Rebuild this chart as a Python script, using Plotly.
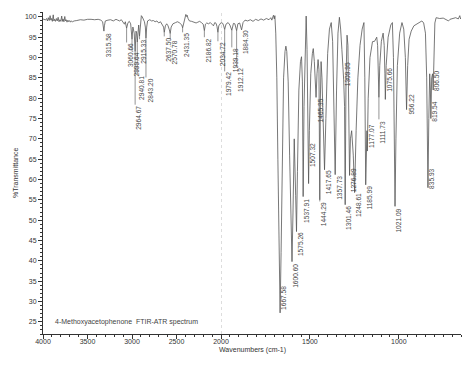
import plotly.graph_objects as go

# ---------------- data ----------------
wavenumber = [
    4000, 3990, 3975, 3960, 3950, 3940, 3930, 3920, 3912, 3905, 3895, 3885, 3878, 3870, 3860,
    3850, 3840, 3830, 3820, 3810, 3800, 3790, 3782, 3775, 3765, 3755, 3748, 3740, 3730, 3720,
    3710, 3700, 3690, 3680, 3670, 3650, 3620, 3580, 3540, 3500, 3460, 3420, 3380, 3350, 3330,
    3320, 3315.58, 3310, 3300, 3270, 3240, 3210, 3180, 3160, 3140, 3120, 3100, 3085, 3075,
    3060.66, 3045, 3030, 3015, 2999.64, 2990, 2982, 2975, 2964.67, 2955, 2948, 2940.81, 2932,
    2925, 2915.33, 2905, 2895, 2885, 2870, 2860, 2850, 2843.20, 2835, 2825, 2800, 2780, 2760,
    2740, 2720, 2700, 2680, 2660, 2645, 2637.50, 2625, 2610, 2595, 2580, 2570.78, 2560, 2540,
    2510, 2490, 2470, 2450, 2440, 2431.35, 2420, 2405, 2395, 2388, 2380, 2370, 2355, 2330,
    2300, 2280, 2260, 2240, 2220, 2200, 2186.82, 2175, 2160, 2140, 2120, 2100, 2085, 2070,
    2055, 2045, 2034.72, 2025, 2010, 2000,
    1990, 1985, 1979.42, 1972, 1960, 1950, 1939.18, 1930, 1922, 1912.12, 1905, 1895, 1884.30,
    1876, 1865, 1850, 1835, 1820, 1805, 1790, 1775, 1760, 1745, 1730, 1720, 1714, 1705, 1700,
    1697, 1692, 1686, 1680, 1672, 1667.58, 1662, 1655, 1648, 1640, 1635, 1630, 1622, 1614,
    1606, 1600.60, 1595, 1588, 1580, 1575.26, 1570, 1562, 1553, 1547, 1542, 1537.91, 1533,
    1527, 1521, 1516, 1511, 1507.32, 1503, 1495, 1486, 1481, 1475, 1469, 1465.35, 1460, 1454,
    1449, 1444.29, 1441, 1437, 1432, 1425, 1417.65, 1410, 1400, 1390, 1380, 1372, 1365,
    1357.73, 1350, 1342, 1334, 1327, 1320, 1314, 1309.95, 1305, 1301.46, 1297, 1291, 1286,
    1281, 1276.89, 1272, 1265, 1256, 1248.61, 1240, 1230, 1218, 1206, 1196, 1191, 1185.99,
    1182, 1179, 1177.07, 1172, 1162, 1148, 1136, 1124, 1119, 1115, 1111.73, 1107, 1098, 1088,
    1082, 1078, 1075.66, 1071, 1060, 1045, 1036, 1030, 1025, 1021.09, 1016, 1008, 995, 982,
    972, 963, 956.22, 950, 942, 930, 915, 900, 885, 870, 860, 850, 843, 838, 835.93, 831, 826,
    822, 819.54, 815, 810, 806.50, 802, 797, 790, 770, 750, 735, 720, 712, 700, 680, 665,
    657, 652, 650,
]
transmittance = [
    99.3, 99.5, 99.2, 99.6, 99.0, 99.8, 99.1, 100.3, 99.2, 99.6, 98.9, 100.5, 99.0, 99.4, 98.9,
    99.6, 99.0, 99.9, 98.8, 99.3, 98.9, 100.2, 98.9, 99.5, 98.8, 100.1, 99.0, 99.3, 98.7, 99.2,
    98.8, 99.1, 98.7, 99.0, 98.8, 99.0, 99.1, 99.3, 99.2, 99.4, 99.4, 99.3, 99.4, 99.2, 98.8,
    97.4, 96.5, 97.8, 99.0, 99.2, 99.3, 99.0, 99.4, 99.2, 99.0, 99.3, 98.6, 98.2, 98.8,
    97.2, 98.6, 98.9, 98.3, 94.5, 97.5, 96.8, 96.0, 91.5, 96.5, 96.0, 93.8, 97.5,
    98.0, 95.3, 98.5, 100.3, 100.0, 99.4, 98.8, 97.5, 94.8, 97.5, 99.0, 99.3, 99.0, 99.1,
    98.8, 99.0, 98.5, 98.8, 98.2, 97.5, 96.2, 97.8, 98.3, 97.8, 96.8, 95.9, 97.5, 98.3,
    98.6, 98.8, 98.6, 98.3, 98.0, 97.3, 98.4, 99.5, 100.6, 100.1, 100.4, 99.6, 99.0, 98.9,
    98.7, 98.5, 98.7, 98.9, 98.6, 98.2, 96.6, 98.2, 98.5, 98.3, 98.6, 98.0, 97.8, 98.6,
    98.4, 97.6, 96.2, 97.8, 98.5, 98.6,
    98.4, 97.8, 96.9, 98.2, 98.6, 98.0, 96.7, 98.4, 98.3, 96.6, 98.3, 98.5, 96.8,
    98.6, 99.2, 99.0, 99.3, 98.9, 99.4, 99.1, 99.5, 99.2, 99.6, 99.3, 99.8, 99.2, 100.4, 99.5,
    100.3, 96.0, 85.0, 65.0, 40.0, 27.2, 42.0, 68.0, 85.0, 91.5, 92.8, 91.5, 84.0, 66.0,
    48.0, 39.8, 52.0, 70.0, 56.0, 47.2, 62.0, 82.0, 89.0, 90.2, 84.0, 55.8, 78.0,
    92.0, 100.2, 92.0, 72.0, 59.0, 72.0, 86.0, 91.0, 92.2, 89.0, 84.0, 80.2, 86.0, 89.5,
    87.0, 55.0, 80.0, 89.0, 85.0, 72.0, 62.4, 75.0, 91.0, 97.0, 98.6, 94.0, 80.0,
    61.2, 82.0, 96.0, 99.9, 97.0, 92.0, 88.0, 84.5, 78.0, 53.8, 84.0, 95.5, 93.0,
    80.0, 61.0, 70.0, 72.0, 66.0, 56.8, 72.0, 85.0, 93.0, 97.0, 98.6, 85.0, 58.7,
    70.0, 72.0, 67.0, 80.0, 90.0, 93.9, 94.0, 95.0, 93.0, 87.0, 80.2, 88.0, 94.0, 96.0,
    93.0, 86.0, 79.7, 88.0, 95.0, 98.0, 98.6, 90.0, 70.0, 53.4, 70.0, 88.0, 96.0, 98.6,
    97.0, 90.0, 77.2, 88.0, 94.5, 96.5, 97.8, 98.2, 98.8, 99.0, 98.5, 96.0, 85.0, 68.0, 58.0, 75.0, 86.0,
    82.0, 75.0, 85.0, 86.0, 82.0, 92.0, 98.5, 99.8, 99.6, 99.7, 99.3, 99.0, 99.4, 99.6, 99.8, 99.5,
    100.3, 99.5, 99.7,
]

peak_wn = [
    3315.58, 3060.66, 2999.64, 2964.67, 2940.81, 2915.33, 2843.20, 2637.50, 2570.78, 2431.35,
    2186.82, 2034.72, 1979.42, 1939.18, 1912.12, 1884.30, 1667.58, 1600.60, 1575.26, 1537.91,
    1507.32, 1465.35, 1444.29, 1417.65, 1357.73, 1309.95, 1301.46, 1276.89, 1248.61, 1185.99,
    1177.07, 1111.73, 1075.66, 1021.09, 956.22, 835.93, 819.54, 806.50,
]
peak_t = [
    96.5, 97.2, 94.5, 91.5, 93.8, 95.3, 94.8, 96.2, 95.9, 97.3,
    96.6, 96.2, 96.9, 96.7, 96.6, 96.8, 27.2, 39.8, 47.2, 55.8,
    59.0, 80.2, 55.0, 62.4, 61.2, 84.5, 53.8, 61.0, 56.8, 58.7,
    67.0, 80.2, 79.7, 53.4, 77.2, 58.0, 75.0, 82.0,
]

# ---------------- label layout (top end of each rotated label, in %T) ----------------
label_top = [
    96.2, 93.7, 91.5, 78.4, 85.8, 94.5, 85.1, 95.2, 94.5, 96.2,
    95.0, 94.0, 86.6, 92.5, 87.6, 96.9, 34.1, 39.5, 47.2, 55.5,
    69.1, 80.2, 54.6, 62.4, 61.2, 89.0, 53.8, 62.9, 56.8, 58.7,
    74.0, 74.8, 87.8, 53.1, 81.4, 63.2, 79.7, 87.1,
]

SPLIT = 2000
LINE = "#555555"
TXT = "#444444"
FONT = "Liberation Sans, Arial, sans-serif"

fig = go.Figure()

hi_x = [w for w in wavenumber if w >= SPLIT]
hi_y = [t for w, t in zip(wavenumber, transmittance) if w >= SPLIT]
lo_x = [w for w in wavenumber if w <= SPLIT]
lo_y = [t for w, t in zip(wavenumber, transmittance) if w <= SPLIT]

fig.add_trace(go.Scatter(x=hi_x, y=hi_y, mode="lines", xaxis="x", yaxis="y",
                         line=dict(color=LINE, width=0.8), hoverinfo="skip", showlegend=False))
fig.add_trace(go.Scatter(x=lo_x, y=lo_y, mode="lines", xaxis="x2", yaxis="y",
                         line=dict(color=LINE, width=0.8), hoverinfo="skip", showlegend=False))

# leader lines from peak tip down to its label
lead = {"x": ([], []), "x2": ([], [])}
annotations = []
for w, t, top in zip(peak_wn, peak_t, label_top):
    ax = "x" if w > SPLIT else "x2"
    if top < t - 0.3:
        lead[ax][0].extend([w, w, None])
        lead[ax][1].extend([t, top, None])
    annotations.append(dict(
        x=w, y=top, xref=ax, yref="y", text=f"{w:.2f}", showarrow=False,
        textangle=-90, xanchor="left", yanchor="top", borderpad=0, xshift=-0.5,
        font=dict(family=FONT, size=6.6, color=TXT)))

for ax, (lx, ly) in lead.items():
    if lx:
        fig.add_trace(go.Scatter(x=lx, y=ly, mode="lines", xaxis=ax, yaxis="y",
                                 line=dict(color="#666666", width=0.7),
                                 hoverinfo="skip", showlegend=False))

annotations += [
    dict(x=0.502, y=0, xref="paper", yref="paper", yshift=-16, text="Wavenumbers (cm-1)",
         showarrow=False, xanchor="center", yanchor="middle",
         font=dict(family=FONT, size=7, color="#333333")),
    dict(x=-0.067, y=0.5, xref="paper", yref="paper", text="%Transmittance", textangle=-90,
         showarrow=False, xanchor="center", yanchor="middle",
         font=dict(family=FONT, size=7, color="#333333")),
    dict(x=0.024, y=25, xref="paper", yref="y",
         text="4-Methoxyacetophenone\u00a0 FTIR-ATR spectrum",
         showarrow=False, xanchor="left", yanchor="middle",
         font=dict(family=FONT, size=7, color=TXT)),
]

W, H = 474, 366
L, R, T, B = 43, 13, 12, 32
pw = W - L - R
split_frac = 178 / pw

axis_common = dict(showline=True, linecolor="#333333", linewidth=1, ticks="outside",
                   ticklen=4, tickcolor="#333333", showgrid=False, zeroline=False,
                   automargin=False,
                   tickfont=dict(family=FONT, size=7, color="#333333"))

fig.update_layout(
    width=W, height=H,
    margin=dict(l=L, r=R, t=T, b=B, autoexpand=False),
    paper_bgcolor="white", plot_bgcolor="white",
    xaxis=dict(domain=[0, split_frac], range=[4000, 2000], anchor="y",
               tickvals=[4000, 3500, 3000, 2500, 2000], ticklabelstandoff=-3,
               minor=dict(ticks="outside", dtick=100, ticklen=2, tickcolor="#333333"),
               **axis_common),
    xaxis2=dict(domain=[split_frac, 1], range=[2000, 650], anchor="y",
                tickvals=[1500, 1000], ticklabelstandoff=-3,
                minor=dict(ticks="outside", dtick=50, ticklen=2, tickcolor="#333333"),
                **axis_common),
    yaxis=dict(range=[22, 101.2], anchor="x", tickvals=list(range(25, 101, 5)),
               minor=dict(ticks="outside", dtick=1, ticklen=2, tickcolor="#333333"),
               **axis_common),
    shapes=[dict(type="line", xref="x2", yref="paper", x0=2000, x1=2000, y0=0, y1=1,
                 line=dict(color="#bbbbbb", width=1, dash="dot"))],
    annotations=annotations,
)

fig.write_html("out.html", config={"displayModeBar": False},
               post_script="document.body.style.margin='0';")
